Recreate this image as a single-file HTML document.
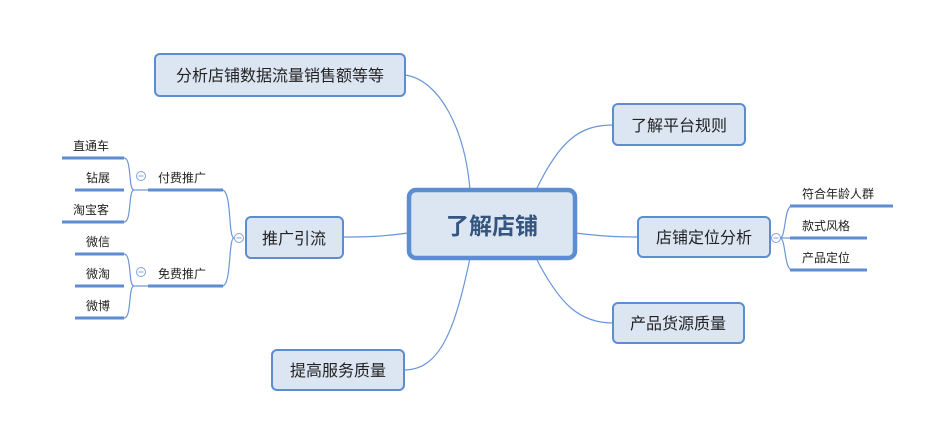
<!DOCTYPE html>
<html><head><meta charset="utf-8"><style>
html,body{margin:0;padding:0;background:#fff;}
svg{display:block;}
text{font-family:"Liberation Sans","Noto Sans CJK SC",sans-serif;fill:#222;}
</style></head><body>
<svg width="952" height="430" viewBox="0 0 952 430" xmlns="http://www.w3.org/2000/svg">
<g fill="none" stroke="#6a96d6" stroke-width="1.2">
<path d="M470 190 C465 130 440 80 405 75"/>
<path d="M536 190 C560 140 580 125 613 125"/>
<path d="M575 233 C600 236 615 237 638 237"/>
<path d="M536 258 C560 305 580 323 613 323"/>
<path d="M470 258 C455 330 440 370 404 370"/>
<path d="M408 233 C380 237 360 237 343 237"/>
<path d="M234 238 C228 238 232 190 222 190"/>
<path d="M234 238 C228 238 232 286 222 286"/>
<path d="M148 190 H134"/>
<path d="M134 190 C128 190 132 158 124 158"/>
<path d="M134 190 C128 190 132 222 124 222"/>
<path d="M148 286 H134"/>
<path d="M134 286 C128 286 132 254 124 254"/>
<path d="M134 286 C128 286 132 318 124 318"/>
<path d="M780 238 H790"/>
<path d="M780 238 C786 238 784 206 792 206"/>
<path d="M780 238 C786 238 784 270 792 270"/>
</g>
<g stroke="#5b8dd0" stroke-width="3">
<line x1="148" y1="190" x2="223" y2="190"/>
<line x1="148" y1="286" x2="223" y2="286"/>
<line x1="62" y1="158" x2="124" y2="158"/>
<line x1="75" y1="190" x2="124" y2="190"/>
<line x1="62" y1="222" x2="124" y2="222"/>
<line x1="75" y1="254" x2="124" y2="254"/>
<line x1="75" y1="286" x2="124" y2="286"/>
<line x1="75" y1="318" x2="124" y2="318"/>
<line x1="790" y1="206" x2="893" y2="206"/>
<line x1="790" y1="238" x2="867" y2="238"/>
<line x1="790" y1="270" x2="867" y2="270"/>
</g>
<g fill="#fff" stroke="#7fa3d8" stroke-width="1">
<circle cx="239" cy="238" r="4.5"/><circle cx="141" cy="176" r="4.5"/><circle cx="141" cy="272" r="4.5"/><circle cx="776" cy="238" r="4.5"/>
</g>
<g stroke="#7fa3d8" stroke-width="1">
<line x1="236.5" y1="238" x2="241.5" y2="238"/><line x1="138.5" y1="176" x2="143.5" y2="176"/><line x1="138.5" y1="272" x2="143.5" y2="272"/><line x1="773.5" y1="238" x2="778.5" y2="238"/>
</g>
<g fill="#dce6f3" stroke="#5b8dd0" stroke-width="2">
<rect x="155" y="54" width="250" height="42" rx="5"/>
<rect x="613" y="104" width="132" height="41" rx="5"/>
<rect x="638" y="217" width="132" height="40" rx="5"/>
<rect x="613" y="303" width="131" height="40" rx="5"/>
<rect x="272" y="350" width="132" height="40" rx="5"/>
<rect x="246" y="217" width="97" height="41" rx="5"/>
</g>
<rect x="409" y="190" width="166" height="68" rx="7" fill="#dce6f3" stroke="#5b8dd0" stroke-width="4.5"/>
<text x="492" y="234" font-size="23" font-weight="bold" text-anchor="middle" style="fill:#34557f">了解店铺</text>
<g font-size="16" text-anchor="middle">
<text x="280" y="81">分析店铺数据流量销售额等等</text>
<text x="679" y="131">了解平台规则</text>
<text x="704" y="243">店铺定位分析</text>
<text x="678" y="329">产品货源质量</text>
<text x="338" y="376">提高服务质量</text>
<text x="294" y="244">推广引流</text>
</g>
<g font-size="12">
<text x="158" y="182">付费推广</text>
<text x="158" y="278">免费推广</text>
<text x="73" y="150">直通车</text>
<text x="86" y="182">钻展</text>
<text x="73" y="214">淘宝客</text>
<text x="86" y="246">微信</text>
<text x="86" y="278">微淘</text>
<text x="86" y="310">微博</text>
<text x="802" y="198">符合年龄人群</text>
<text x="802" y="230">款式风格</text>
<text x="802" y="262">产品定位</text>
</g>
</svg>
</body></html>
